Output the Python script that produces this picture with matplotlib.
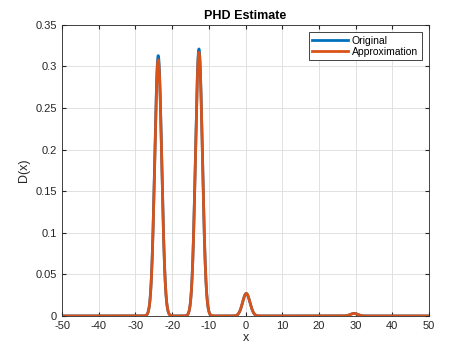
import numpy as np
import matplotlib.pyplot as plt

plt.rcParams['font.family'] = ['Liberation Sans', 'DejaVu Sans']
plt.rcParams['axes.unicode_minus'] = False

# Gaussian mixture components
means = [-23.8, -12.7, 0.2, 29.6]
sigmas = [0.95, 0.95, 1.0, 1.0]
peaks_orig = [0.313, 0.321, 0.027, 0.003]
peaks_approx = [0.308, 0.317, 0.027, 0.003]

x = np.linspace(-50, 50, 4001)


def mixture(peaks):
    d = np.zeros_like(x)
    for m, s, p in zip(means, sigmas, peaks):
        d += p * np.exp(-0.5 * ((x - m) / s) ** 2)
    return d


fig = plt.figure(figsize=(4.74, 3.55), dpi=100)
ax = fig.add_axes([0.131, 0.110, 0.774, 0.820])

ax.plot(x, mixture(peaks_orig), lw=2.0, color='#0072BD', label='Original')
ax.plot(x, mixture(peaks_approx), lw=2.0, color='#D95319', label='Approximation')

ax.set_xlim(-50, 50)
ax.set_ylim(0, 0.35)
ax.set_xticks(np.arange(-50, 51, 10))
ax.set_yticks(np.arange(0, 0.351, 0.05))
ax.set_yticklabels(['0', '0.05', '0.1', '0.15', '0.2', '0.25', '0.3', '0.35'])
ax.grid(True, color='#dcdcdc', lw=0.6)
ax.set_axisbelow(True)
ax.tick_params(direction='in', length=3, labelsize=8, colors='#262626', top=True, right=True,
               labeltop=False, labelright=False)
for sp in ax.spines.values():
    sp.set_color('#262626')
    sp.set_linewidth(0.6)

ax.set_xlabel('x', fontsize=9, color='#262626', labelpad=1)
ax.set_ylabel('D(x)', fontsize=9, color='#262626')
ax.set_title('PHD Estimate', fontsize=9, fontweight='bold', pad=4)

leg = ax.legend(loc='upper right', fontsize=7.5, fancybox=False, framealpha=1,
                edgecolor='#262626', handlelength=3.4, borderpad=0.35, labelspacing=0.1,
                handletextpad=0.4, borderaxespad=0.7)
leg.get_frame().set_linewidth(0.6)

plt.savefig('out.png', dpi=100)
plt.close(fig)
